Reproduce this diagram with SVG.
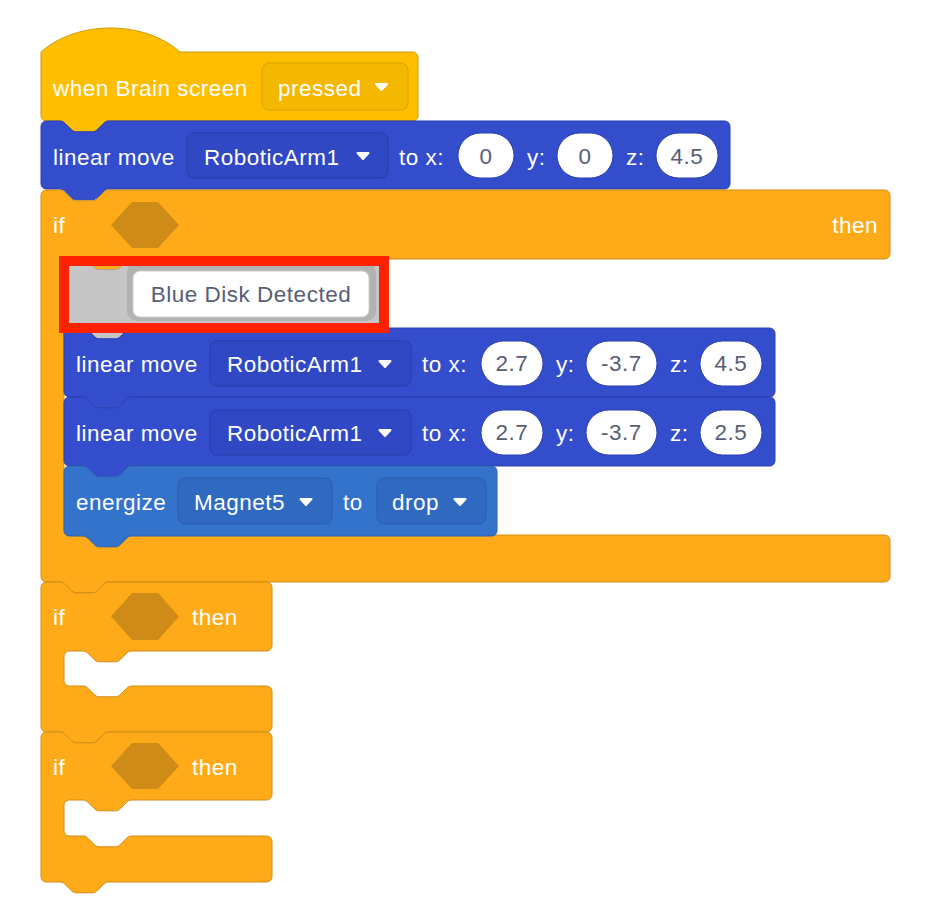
<svg xmlns="http://www.w3.org/2000/svg" width="934" height="906" viewBox="0 0 934 906">
<style>
text{font-family:"Liberation Sans",Arial,Helvetica,sans-serif;font-size:22.5px;letter-spacing:0.5px;fill:#fff}
.val{fill:#575E75;text-anchor:middle}
.hat{fill:#FFBF00;stroke:#CC9900;stroke-width:1}
.ctl{fill:#FFAB19;stroke:#CF8B17;stroke-width:1}
.mv{fill:#334DCC;stroke:#2A3FAE;stroke-width:1}
.en{fill:#3373CC;stroke:#2C62B0;stroke-width:1}
.hex{fill:#CF8B17}
.ddh{fill:#F5B800;stroke:#D9A300;stroke-width:1}
.ddm{fill:#3048C4;stroke:#283CA6;stroke-width:1}
.dde{fill:#2F6AC0;stroke:#2A5DAA;stroke-width:1}
.oval{fill:#fff;stroke:#2A3FAE;stroke-width:1}
.arr{fill:#fff;stroke:#fff;stroke-width:2;stroke-linejoin:round}
</style>
<defs>
<path id="caret" d="M -5.5,-3 L 5.5,-3 L 0,3 Z"/>
</defs>

<g id="hat-block">
<path class="hat" d="M 41,52 c 36,-32 103,-32 139,0 H 412.6 a 5.4,5.4 0 0 1 5.4,5.4 V 115.6 a 5.4,5.4 0 0 1 -5.4,5.4 H 108.6 c -2.7,0 -4.05,1.35 -5.4,2.7 l -5.4,5.4 c -1.35,1.35 -2.7,2.7 -5.4,2.7 h -16.2 c -2.7,0 -4.05,-1.35 -5.4,-2.7 l -5.4,-5.4 c -1.35,-1.35 -2.7,-2.7 -5.4,-2.7 H 46.4 a 5.4,5.4 0 0 1 -5.4,-5.4 Z"/>
<text x="53" y="96">when Brain screen</text>
<rect class="ddh" x="262" y="63" width="146" height="47" rx="7"/>
<text x="278" y="96">pressed</text>
<use href="#caret" class="arr" x="381.5" y="87"/>
</g>

<g id="move-top">
<path class="mv" d="M 41,126.4 a 5.4,5.4 0 0 1 5.4,-5.4 H 60 c 2.7,0 4.05,1.35 5.4,2.7 l 5.4,5.4 c 1.35,1.35 2.7,2.7 5.4,2.7 h 16.2 c 2.7,0 4.05,-1.35 5.4,-2.7 l 5.4,-5.4 c 1.35,-1.35 2.7,-2.7 5.4,-2.7 H 724.6 a 5.4,5.4 0 0 1 5.4,5.4 V 183.6 a 5.4,5.4 0 0 1 -5.4,5.4 H 108.6 c -2.7,0 -4.05,1.35 -5.4,2.7 l -5.4,5.4 c -1.35,1.35 -2.7,2.7 -5.4,2.7 h -16.2 c -2.7,0 -4.05,-1.35 -5.4,-2.7 l -5.4,-5.4 c -1.35,-1.35 -2.7,-2.7 -5.4,-2.7 H 46.4 a 5.4,5.4 0 0 1 -5.4,-5.4 Z"/>
</g>

<g id="if-main">
<path class="ctl" d="M 41,195.4 a 5.4,5.4 0 0 1 5.4,-5.4 H 60 c 2.7,0 4.05,1.35 5.4,2.7 l 5.4,5.4 c 1.35,1.35 2.7,2.7 5.4,2.7 h 16.2 c 2.7,0 4.05,-1.35 5.4,-2.7 l 5.4,-5.4 c 1.35,-1.35 2.7,-2.7 5.4,-2.7 H 884.6 a 5.4,5.4 0 0 1 5.4,5.4 V 253.6 a 5.4,5.4 0 0 1 -5.4,5.4 H 131.6 c -2.7,0 -4.05,1.35 -5.4,2.7 l -5.4,5.4 c -1.35,1.35 -2.7,2.7 -5.4,2.7 h -16.2 c -2.7,0 -4.05,-1.35 -5.4,-2.7 l -5.4,-5.4 c -1.35,-1.35 -2.7,-2.7 -5.4,-2.7 H 69.4 a 5.4,5.4 0 0 0 -5.4,5.4 V 529.6 a 5.4,5.4 0 0 0 5.4,5.4 H 83 c 2.7,0 4.05,1.35 5.4,2.7 l 5.4,5.4 c 1.35,1.35 2.7,2.7 5.4,2.7 h 16.2 c 2.7,0 4.05,-1.35 5.4,-2.7 l 5.4,-5.4 c 1.35,-1.35 2.7,-2.7 5.4,-2.7 H 884.6 a 5.4,5.4 0 0 1 5.4,5.4 V 576.6 a 5.4,5.4 0 0 1 -5.4,5.4 H 108.6 c -2.7,0 -4.05,1.35 -5.4,2.7 l -5.4,5.4 c -1.35,1.35 -2.7,2.7 -5.4,2.7 h -16.2 c -2.7,0 -4.05,-1.35 -5.4,-2.7 l -5.4,-5.4 c -1.35,-1.35 -2.7,-2.7 -5.4,-2.7 H 46.4 a 5.4,5.4 0 0 1 -5.4,-5.4 Z"/>
<text x="53" y="233">if</text>
<path class="hex" d="M 111,225 L 132,202 H 158 L 179,225 L 158,248 H 132 Z"/>
<text x="878" y="233" text-anchor="end">then</text>
</g>

<g id="move-top-fields">
<text x="53" y="165">linear move</text>
<rect class="ddm" x="187" y="133" width="201" height="45" rx="7"/>
<text x="204" y="165">RoboticArm1</text>
<use href="#caret" class="arr" x="363" y="156"/>
<text x="399" y="165">to x:</text>
<rect class="oval" x="458" y="133" width="56" height="45" rx="22.5"/>
<text class="val" x="486" y="164">0</text>
<text x="527" y="165">y:</text>
<rect class="oval" x="557" y="133" width="56" height="45" rx="22.5"/>
<text class="val" x="585" y="164">0</text>
<text x="626" y="165">z:</text>
<rect class="oval" x="656" y="133" width="62" height="45" rx="22.5"/>
<text class="val" x="687" y="164">4.5</text>
</g>

<g id="blue-disk">
<path d="M 64,264.4 a 5.4,5.4 0 0 1 5.4,-5.4 H 83 c 2.7,0 4.05,1.35 5.4,2.7 l 5.4,5.4 c 1.35,1.35 2.7,2.7 5.4,2.7 h 16.2 c 2.7,0 4.05,-1.35 5.4,-2.7 l 5.4,-5.4 c 1.35,-1.35 2.7,-2.7 5.4,-2.7 H 378.6 a 5.4,5.4 0 0 1 5.4,5.4 V 322.6 a 5.4,5.4 0 0 1 -5.4,5.4 H 131.6 c -2.7,0 -4.05,1.35 -5.4,2.7 l -5.4,5.4 c -1.35,1.35 -2.7,2.7 -5.4,2.7 h -16.2 c -2.7,0 -4.05,-1.35 -5.4,-2.7 l -5.4,-5.4 c -1.35,-1.35 -2.7,-2.7 -5.4,-2.7 H 69.4 a 5.4,5.4 0 0 1 -5.4,-5.4 Z" fill="#C6C6C6" stroke="#ABABAB" stroke-width="1"/>
<rect x="127" y="262" width="249" height="59" rx="10" fill="#B2B2B2"/>
<rect x="133" y="271" width="236" height="46" rx="7" fill="#fff" stroke="#D0D0D0" stroke-width="1"/>
<text class="val" x="251" y="302">Blue Disk Detected</text>
</g>

<g id="move-1">
<path class="mv" d="M 64,333.4 a 5.4,5.4 0 0 1 5.4,-5.4 H 83 c 2.7,0 4.05,1.35 5.4,2.7 l 5.4,5.4 c 1.35,1.35 2.7,2.7 5.4,2.7 h 16.2 c 2.7,0 4.05,-1.35 5.4,-2.7 l 5.4,-5.4 c 1.35,-1.35 2.7,-2.7 5.4,-2.7 H 769.6 a 5.4,5.4 0 0 1 5.4,5.4 V 391.6 a 5.4,5.4 0 0 1 -5.4,5.4 H 131.6 c -2.7,0 -4.05,1.35 -5.4,2.7 l -5.4,5.4 c -1.35,1.35 -2.7,2.7 -5.4,2.7 h -16.2 c -2.7,0 -4.05,-1.35 -5.4,-2.7 l -5.4,-5.4 c -1.35,-1.35 -2.7,-2.7 -5.4,-2.7 H 69.4 a 5.4,5.4 0 0 1 -5.4,-5.4 Z"/>
</g>

<g id="highlight">
<rect x="64" y="261" width="320" height="67" fill="none" stroke="#FF2200" stroke-width="10"/>
</g>

<g id="move-1-fields">
<text x="76" y="372">linear move</text>
<rect class="ddm" x="210" y="341" width="201" height="45" rx="7"/>
<text x="227" y="372">RoboticArm1</text>
<use href="#caret" class="arr" x="385" y="364"/>
<text x="422" y="372">to x:</text>
<rect class="oval" x="481" y="341" width="62" height="45" rx="22.5"/>
<text class="val" x="512" y="371">2.7</text>
<text x="556" y="372">y:</text>
<rect class="oval" x="586" y="341" width="71" height="45" rx="22.5"/>
<text class="val" x="621.5" y="371">-3.7</text>
<text x="670" y="372">z:</text>
<rect class="oval" x="700" y="341" width="62" height="45" rx="22.5"/>
<text class="val" x="731" y="371">4.5</text>
</g>

<g id="move-2">
<path class="mv" d="M 64,402.4 a 5.4,5.4 0 0 1 5.4,-5.4 H 83 c 2.7,0 4.05,1.35 5.4,2.7 l 5.4,5.4 c 1.35,1.35 2.7,2.7 5.4,2.7 h 16.2 c 2.7,0 4.05,-1.35 5.4,-2.7 l 5.4,-5.4 c 1.35,-1.35 2.7,-2.7 5.4,-2.7 H 769.6 a 5.4,5.4 0 0 1 5.4,5.4 V 460.6 a 5.4,5.4 0 0 1 -5.4,5.4 H 131.6 c -2.7,0 -4.05,1.35 -5.4,2.7 l -5.4,5.4 c -1.35,1.35 -2.7,2.7 -5.4,2.7 h -16.2 c -2.7,0 -4.05,-1.35 -5.4,-2.7 l -5.4,-5.4 c -1.35,-1.35 -2.7,-2.7 -5.4,-2.7 H 69.4 a 5.4,5.4 0 0 1 -5.4,-5.4 Z"/>
<text x="76" y="441">linear move</text>
<rect class="ddm" x="210" y="410" width="201" height="45" rx="7"/>
<text x="227" y="441">RoboticArm1</text>
<use href="#caret" class="arr" x="385" y="433"/>
<text x="422" y="441">to x:</text>
<rect class="oval" x="481" y="410" width="62" height="45" rx="22.5"/>
<text class="val" x="512" y="440">2.7</text>
<text x="556" y="441">y:</text>
<rect class="oval" x="586" y="410" width="71" height="45" rx="22.5"/>
<text class="val" x="621.5" y="440">-3.7</text>
<text x="670" y="441">z:</text>
<rect class="oval" x="700" y="410" width="62" height="45" rx="22.5"/>
<text class="val" x="731" y="440">2.5</text>
</g>

<g id="energize">
<path class="en" d="M 64,471.4 a 5.4,5.4 0 0 1 5.4,-5.4 H 83 c 2.7,0 4.05,1.35 5.4,2.7 l 5.4,5.4 c 1.35,1.35 2.7,2.7 5.4,2.7 h 16.2 c 2.7,0 4.05,-1.35 5.4,-2.7 l 5.4,-5.4 c 1.35,-1.35 2.7,-2.7 5.4,-2.7 H 491.6 a 5.4,5.4 0 0 1 5.4,5.4 V 530.6 a 5.4,5.4 0 0 1 -5.4,5.4 H 131.6 c -2.7,0 -4.05,1.35 -5.4,2.7 l -5.4,5.4 c -1.35,1.35 -2.7,2.7 -5.4,2.7 h -16.2 c -2.7,0 -4.05,-1.35 -5.4,-2.7 l -5.4,-5.4 c -1.35,-1.35 -2.7,-2.7 -5.4,-2.7 H 69.4 a 5.4,5.4 0 0 1 -5.4,-5.4 Z"/>
<text x="76" y="510">energize</text>
<rect class="dde" x="178" y="478" width="154" height="46" rx="7"/>
<text x="194" y="510">Magnet5</text>
<use href="#caret" class="arr" x="306" y="502"/>
<text x="343" y="510">to</text>
<rect class="dde" x="377" y="478" width="109" height="46" rx="7"/>
<text x="392" y="510">drop</text>
<use href="#caret" class="arr" x="460" y="502"/>
</g>

<g id="if-2">
<path class="ctl" d="M 41,587.4 a 5.4,5.4 0 0 1 5.4,-5.4 H 60 c 2.7,0 4.05,1.35 5.4,2.7 l 5.4,5.4 c 1.35,1.35 2.7,2.7 5.4,2.7 h 16.2 c 2.7,0 4.05,-1.35 5.4,-2.7 l 5.4,-5.4 c 1.35,-1.35 2.7,-2.7 5.4,-2.7 H 266.6 a 5.4,5.4 0 0 1 5.4,5.4 V 645.6 a 5.4,5.4 0 0 1 -5.4,5.4 H 131.6 c -2.7,0 -4.05,1.35 -5.4,2.7 l -5.4,5.4 c -1.35,1.35 -2.7,2.7 -5.4,2.7 h -16.2 c -2.7,0 -4.05,-1.35 -5.4,-2.7 l -5.4,-5.4 c -1.35,-1.35 -2.7,-2.7 -5.4,-2.7 H 69.4 a 5.4,5.4 0 0 0 -5.4,5.4 V 680.6 a 5.4,5.4 0 0 0 5.4,5.4 H 83 c 2.7,0 4.05,1.35 5.4,2.7 l 5.4,5.4 c 1.35,1.35 2.7,2.7 5.4,2.7 h 16.2 c 2.7,0 4.05,-1.35 5.4,-2.7 l 5.4,-5.4 c 1.35,-1.35 2.7,-2.7 5.4,-2.7 H 266.6 a 5.4,5.4 0 0 1 5.4,5.4 V 726.6 a 5.4,5.4 0 0 1 -5.4,5.4 H 108.6 c -2.7,0 -4.05,1.35 -5.4,2.7 l -5.4,5.4 c -1.35,1.35 -2.7,2.7 -5.4,2.7 h -16.2 c -2.7,0 -4.05,-1.35 -5.4,-2.7 l -5.4,-5.4 c -1.35,-1.35 -2.7,-2.7 -5.4,-2.7 H 46.4 a 5.4,5.4 0 0 1 -5.4,-5.4 Z"/>
<text x="53" y="625">if</text>
<path class="hex" d="M 111,616.5 L 132,593 H 158 L 179,616.5 L 158,640 H 132 Z"/>
<text x="192" y="625">then</text>
</g>

<g id="if-3">
<path class="ctl" d="M 41,737.4 a 5.4,5.4 0 0 1 5.4,-5.4 H 60 c 2.7,0 4.05,1.35 5.4,2.7 l 5.4,5.4 c 1.35,1.35 2.7,2.7 5.4,2.7 h 16.2 c 2.7,0 4.05,-1.35 5.4,-2.7 l 5.4,-5.4 c 1.35,-1.35 2.7,-2.7 5.4,-2.7 H 266.6 a 5.4,5.4 0 0 1 5.4,5.4 V 794.6 a 5.4,5.4 0 0 1 -5.4,5.4 H 131.6 c -2.7,0 -4.05,1.35 -5.4,2.7 l -5.4,5.4 c -1.35,1.35 -2.7,2.7 -5.4,2.7 h -16.2 c -2.7,0 -4.05,-1.35 -5.4,-2.7 l -5.4,-5.4 c -1.35,-1.35 -2.7,-2.7 -5.4,-2.7 H 69.4 a 5.4,5.4 0 0 0 -5.4,5.4 V 830.6 a 5.4,5.4 0 0 0 5.4,5.4 H 83 c 2.7,0 4.05,1.35 5.4,2.7 l 5.4,5.4 c 1.35,1.35 2.7,2.7 5.4,2.7 h 16.2 c 2.7,0 4.05,-1.35 5.4,-2.7 l 5.4,-5.4 c 1.35,-1.35 2.7,-2.7 5.4,-2.7 H 266.6 a 5.4,5.4 0 0 1 5.4,5.4 V 876.6 a 5.4,5.4 0 0 1 -5.4,5.4 H 108.6 c -2.7,0 -4.05,1.35 -5.4,2.7 l -5.4,5.4 c -1.35,1.35 -2.7,2.7 -5.4,2.7 h -16.2 c -2.7,0 -4.05,-1.35 -5.4,-2.7 l -5.4,-5.4 c -1.35,-1.35 -2.7,-2.7 -5.4,-2.7 H 46.4 a 5.4,5.4 0 0 1 -5.4,-5.4 Z"/>
<text x="53" y="775">if</text>
<path class="hex" d="M 111,766 L 132,743 H 158 L 179,766 L 158,789 H 132 Z"/>
<text x="192" y="775">then</text>
</g>

<g id="connectors"></g>
</svg>
